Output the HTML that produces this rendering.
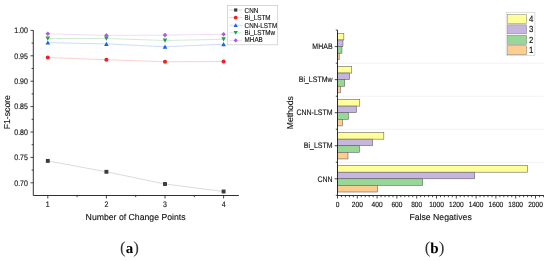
<!DOCTYPE html>
<html><head><meta charset="utf-8"><title>Figure</title>
<style>
html,body{margin:0;padding:0;background:#fff;}
body{width:550px;height:261px;overflow:hidden;}
svg{display:block;}
text{font-family:"Liberation Sans", Arial, sans-serif;fill:#111;stroke:#111;stroke-width:0.12px;text-rendering:geometricPrecision;}
.tk{font-size:7px;}
.tk2{font-size:6.6px;}
.tk3{font-size:7px;}
.ti{font-size:8.7px;}
.lg{font-size:6.3px;}
.lg2{font-size:7.8px;}
.cap{font-family:"Liberation Serif", "Times New Roman", serif;font-size:15px;fill:#000;stroke:none;}
.par{font-size:17px;fill:#333;}
</style></head><body>
<svg width="550" height="261" viewBox="0 0 550 261">
<rect width="550" height="261" fill="#fff"/>
<polyline points="47.8,160.9 106.4,171.8 165,184 223.6,191.5" fill="none" stroke="#cfcfcf" stroke-width="0.75"/>
<polyline points="47.8,57.5 106.4,59.7 165,61.8 223.6,61.5" fill="none" stroke="#f8c0c0" stroke-width="0.75"/>
<polyline points="47.8,42.6 106.4,43.9 165,46.8 223.6,44.2" fill="none" stroke="#bcd0f4" stroke-width="0.75"/>
<polyline points="47.8,38.5 106.4,38.5 165,40.5 223.6,39.3" fill="none" stroke="#bfe6c8" stroke-width="0.75"/>
<polyline points="47.8,33.8 106.4,35.4 165,35.1 223.6,34.2" fill="none" stroke="#ead0f6" stroke-width="0.75"/>
<rect x="45.85" y="158.95" width="3.9" height="3.9" fill="#3c3c3c"/>
<rect x="104.45" y="169.85" width="3.9" height="3.9" fill="#3c3c3c"/>
<rect x="163.05" y="182.05" width="3.9" height="3.9" fill="#3c3c3c"/>
<rect x="221.65" y="189.55" width="3.9" height="3.9" fill="#3c3c3c"/>
<circle cx="47.8" cy="57.5" r="2.05" fill="#f01e28"/>
<circle cx="106.4" cy="59.7" r="2.05" fill="#f01e28"/>
<circle cx="165" cy="61.8" r="2.05" fill="#f01e28"/>
<circle cx="223.6" cy="61.5" r="2.05" fill="#f01e28"/>
<path d="M47.8 40.4L50.1 44.6L45.5 44.6Z" fill="#1e5fe6"/>
<path d="M106.4 41.7L108.7 45.9L104.1 45.9Z" fill="#1e5fe6"/>
<path d="M165 44.6L167.3 48.8L162.7 48.8Z" fill="#1e5fe6"/>
<path d="M223.6 42L225.9 46.2L221.3 46.2Z" fill="#1e5fe6"/>
<path d="M47.8 40.7L50.1 36.5L45.5 36.5Z" fill="#1ea04c"/>
<path d="M106.4 40.7L108.7 36.5L104.1 36.5Z" fill="#1ea04c"/>
<path d="M165 42.7L167.3 38.5L162.7 38.5Z" fill="#1ea04c"/>
<path d="M223.6 41.5L225.9 37.3L221.3 37.3Z" fill="#1ea04c"/>
<path d="M47.8 31.5L50.1 33.8L47.8 36.1L45.5 33.8Z" fill="#ac5ce0"/>
<path d="M106.4 33.1L108.7 35.4L106.4 37.7L104.1 35.4Z" fill="#ac5ce0"/>
<path d="M165 32.8L167.3 35.1L165 37.4L162.7 35.1Z" fill="#ac5ce0"/>
<path d="M223.6 31.9L225.9 34.2L223.6 36.5L221.3 34.2Z" fill="#ac5ce0"/>
<path d="M33.3 30.2V195.5H238.9" fill="none" stroke="#1a1a1a" stroke-width="0.9"/>
<text transform="translate(27.9 33.1) scale(1 1.15)" text-anchor="end" class="tk">1.00</text>
<text transform="translate(27.9 58.5) scale(1 1.15)" text-anchor="end" class="tk">0.95</text>
<text transform="translate(27.9 83.9) scale(1 1.15)" text-anchor="end" class="tk">0.90</text>
<text transform="translate(27.9 109.3) scale(1 1.15)" text-anchor="end" class="tk">0.85</text>
<text transform="translate(27.9 134.7) scale(1 1.15)" text-anchor="end" class="tk">0.80</text>
<text transform="translate(27.9 160.1) scale(1 1.15)" text-anchor="end" class="tk">0.75</text>
<text transform="translate(27.9 185.5) scale(1 1.15)" text-anchor="end" class="tk">0.70</text>
<text transform="translate(47.8 207.1) scale(1 1.15)" text-anchor="middle" class="tk">1</text>
<text transform="translate(106.4 207.1) scale(1 1.15)" text-anchor="middle" class="tk">2</text>
<text transform="translate(165 207.1) scale(1 1.15)" text-anchor="middle" class="tk">3</text>
<text transform="translate(223.6 207.1) scale(1 1.15)" text-anchor="middle" class="tk">4</text>
<path d="M30.5 30.4H33.3M31.6 43.1H33.3M30.5 55.8H33.3M31.6 68.5H33.3M30.5 81.2H33.3M31.6 93.9H33.3M30.5 106.6H33.3M31.6 119.3H33.3M30.5 132H33.3M31.6 144.7H33.3M30.5 157.4H33.3M31.6 170.1H33.3M30.5 182.8H33.3M47.8 195.5V198.5M77.1 195.5V197.2M106.4 195.5V198.5M135.7 195.5V197.2M165 195.5V198.5M194.3 195.5V197.2M223.6 195.5V198.5" fill="none" stroke="#1a1a1a" stroke-width="0.8"/>
<text x="135.6" y="219.6" text-anchor="middle" class="ti">Number of Change Points</text>
<text transform="translate(10.3 112.2) rotate(-90)" text-anchor="middle" class="ti">F1-score</text>
<rect x="227.5" y="5.5" width="50.2" height="39.3" fill="#fff" stroke="#c8c8c8" stroke-width="0.7"/>
<path d="M229.3 10H242.2" stroke="#cfcfcf" stroke-width="0.7"/>
<rect x="234.1" y="8.4" width="3.2" height="3.2" fill="#3c3c3c"/>
<text transform="translate(244.6 12.8) scale(1 1.15)" class="lg">CNN</text>
<path d="M229.3 17.6H242.2" stroke="#f8c0c0" stroke-width="0.7"/>
<circle cx="235.7" cy="17.6" r="1.9" fill="#f01e28"/>
<text transform="translate(244.6 20.16) scale(1 1.15)" class="lg">Bi<tspan dy="-0.7">_</tspan><tspan dy="0.7">LSTM</tspan></text>
<path d="M229.3 25.2H242.2" stroke="#bcd0f4" stroke-width="0.7"/>
<path d="M235.7 23.15L237.85 27.05L233.55 27.05Z" fill="#1e5fe6"/>
<text transform="translate(244.6 27.52) scale(1 1.15)" class="lg">CNN-LSTM</text>
<path d="M229.3 32.8H242.2" stroke="#bfe6c8" stroke-width="0.7"/>
<path d="M235.7 34.85L237.85 30.95L233.55 30.95Z" fill="#1ea04c"/>
<text transform="translate(244.6 34.88) scale(1 1.15)" class="lg">Bi<tspan dy="-0.7">_</tspan><tspan dy="0.7">LSTMw</tspan></text>
<path d="M229.3 40.4H242.2" stroke="#ead0f6" stroke-width="0.7"/>
<path d="M235.7 38.25L237.85 40.4L235.7 42.55L233.55 40.4Z" fill="#ac5ce0"/>
<text transform="translate(244.6 42.24) scale(1 1.15)" class="lg">MHAB</text>
<path d="M337.5 63.15H543.8" stroke="#ececec" stroke-width="0.7"/>
<path d="M337.5 96.2H543.8" stroke="#ececec" stroke-width="0.7"/>
<path d="M337.5 129.25H543.8" stroke="#ececec" stroke-width="0.7"/>
<path d="M337.5 162.3H543.8" stroke="#ececec" stroke-width="0.7"/>
<rect x="337.5" y="33.4" width="6.34" height="6.6" fill="#ffff99" stroke="#5a5a5a" stroke-width="0.55"/>
<rect x="337.5" y="40" width="5.45" height="6.6" fill="#c6b5dc" stroke="#5a5a5a" stroke-width="0.55"/>
<rect x="337.5" y="46.6" width="4.46" height="6.6" fill="#97d897" stroke="#5a5a5a" stroke-width="0.55"/>
<rect x="337.5" y="53.2" width="1.68" height="6.6" fill="#fecd90" stroke="#5a5a5a" stroke-width="0.55"/>
<rect x="337.5" y="66.45" width="14.26" height="6.6" fill="#ffff99" stroke="#5a5a5a" stroke-width="0.55"/>
<rect x="337.5" y="73.05" width="12.18" height="6.6" fill="#c6b5dc" stroke="#5a5a5a" stroke-width="0.55"/>
<rect x="337.5" y="79.65" width="7.23" height="6.6" fill="#97d897" stroke="#5a5a5a" stroke-width="0.55"/>
<rect x="337.5" y="86.25" width="3.07" height="6.6" fill="#fecd90" stroke="#5a5a5a" stroke-width="0.55"/>
<rect x="337.5" y="99.5" width="22.28" height="6.6" fill="#ffff99" stroke="#5a5a5a" stroke-width="0.55"/>
<rect x="337.5" y="106.1" width="19.01" height="6.6" fill="#c6b5dc" stroke="#5a5a5a" stroke-width="0.55"/>
<rect x="337.5" y="112.7" width="10.89" height="6.6" fill="#97d897" stroke="#5a5a5a" stroke-width="0.55"/>
<rect x="337.5" y="119.3" width="4.85" height="6.6" fill="#fecd90" stroke="#5a5a5a" stroke-width="0.55"/>
<rect x="337.5" y="132.55" width="46.33" height="6.6" fill="#ffff99" stroke="#5a5a5a" stroke-width="0.55"/>
<rect x="337.5" y="139.15" width="34.95" height="6.6" fill="#c6b5dc" stroke="#5a5a5a" stroke-width="0.55"/>
<rect x="337.5" y="145.75" width="21.98" height="6.6" fill="#97d897" stroke="#5a5a5a" stroke-width="0.55"/>
<rect x="337.5" y="152.35" width="10.49" height="6.6" fill="#fecd90" stroke="#5a5a5a" stroke-width="0.55"/>
<rect x="337.5" y="165.6" width="189.98" height="6.6" fill="#ffff99" stroke="#5a5a5a" stroke-width="0.55"/>
<rect x="337.5" y="172.2" width="137.12" height="6.6" fill="#c6b5dc" stroke="#5a5a5a" stroke-width="0.55"/>
<rect x="337.5" y="178.8" width="85.24" height="6.6" fill="#97d897" stroke="#5a5a5a" stroke-width="0.55"/>
<rect x="337.5" y="185.4" width="40.09" height="6.6" fill="#fecd90" stroke="#5a5a5a" stroke-width="0.55"/>
<path d="M337.5 30.1V195.5H543.8" fill="none" stroke="#1a1a1a" stroke-width="0.9"/>
<text transform="translate(337.5 207.1) scale(1 1.15)" text-anchor="middle" class="tk2">0</text>
<text transform="translate(357.3 207.1) scale(1 1.15)" text-anchor="middle" class="tk2">200</text>
<text transform="translate(377.1 207.1) scale(1 1.15)" text-anchor="middle" class="tk2">400</text>
<text transform="translate(396.9 207.1) scale(1 1.15)" text-anchor="middle" class="tk2">600</text>
<text transform="translate(416.7 207.1) scale(1 1.15)" text-anchor="middle" class="tk2">800</text>
<text transform="translate(436.5 207.1) scale(1 1.15)" text-anchor="middle" class="tk2">1000</text>
<text transform="translate(456.3 207.1) scale(1 1.15)" text-anchor="middle" class="tk2">1200</text>
<text transform="translate(476.1 207.1) scale(1 1.15)" text-anchor="middle" class="tk2">1400</text>
<text transform="translate(495.9 207.1) scale(1 1.15)" text-anchor="middle" class="tk2">1600</text>
<text transform="translate(515.7 207.1) scale(1 1.15)" text-anchor="middle" class="tk2">1800</text>
<text transform="translate(535.5 207.1) scale(1 1.15)" text-anchor="middle" class="tk2">2000</text>
<text transform="translate(332.6 49.3) scale(1 1.15)" text-anchor="end" class="tk3">MHAB</text>
<text transform="translate(332.6 82.35) scale(1 1.15)" text-anchor="end" class="tk3">Bi<tspan dy="-0.7">_</tspan><tspan dy="0.7">LSTMw</tspan></text>
<text transform="translate(332.6 115.4) scale(1 1.15)" text-anchor="end" class="tk3">CNN-LSTM</text>
<text transform="translate(332.6 148.45) scale(1 1.15)" text-anchor="end" class="tk3">Bi<tspan dy="-0.7">_</tspan><tspan dy="0.7">LSTM</tspan></text>
<text transform="translate(332.6 181.5) scale(1 1.15)" text-anchor="end" class="tk3">CNN</text>
<path d="M337.5 195.5V198.5M357.3 195.5V198.5M377.1 195.5V198.5M396.9 195.5V198.5M416.7 195.5V198.5M436.5 195.5V198.5M456.3 195.5V198.5M476.1 195.5V198.5M495.9 195.5V198.5M515.7 195.5V198.5M535.5 195.5V198.5M341.46 195.5V197.2M345.42 195.5V197.2M349.38 195.5V197.2M353.34 195.5V197.2M361.26 195.5V197.2M365.22 195.5V197.2M369.18 195.5V197.2M373.14 195.5V197.2M381.06 195.5V197.2M385.02 195.5V197.2M388.98 195.5V197.2M392.94 195.5V197.2M400.86 195.5V197.2M404.82 195.5V197.2M408.78 195.5V197.2M412.74 195.5V197.2M420.66 195.5V197.2M424.62 195.5V197.2M428.58 195.5V197.2M432.54 195.5V197.2M440.46 195.5V197.2M444.42 195.5V197.2M448.38 195.5V197.2M452.34 195.5V197.2M460.26 195.5V197.2M464.22 195.5V197.2M468.18 195.5V197.2M472.14 195.5V197.2M480.06 195.5V197.2M484.02 195.5V197.2M487.98 195.5V197.2M491.94 195.5V197.2M499.86 195.5V197.2M503.82 195.5V197.2M507.78 195.5V197.2M511.74 195.5V197.2M519.66 195.5V197.2M523.62 195.5V197.2M527.58 195.5V197.2M531.54 195.5V197.2M539.46 195.5V197.2M543.42 195.5V197.2M334.7 46.6H337.5M334.7 79.65H337.5M334.7 112.7H337.5M334.7 145.75H337.5M334.7 178.8H337.5M335.8 30.1H337.5M335.8 63.15H337.5M335.8 96.2H337.5M335.8 129.25H337.5M335.8 162.3H337.5M335.8 195.35H337.5" fill="none" stroke="#1a1a1a" stroke-width="0.8"/>
<text x="440.6" y="220.1" text-anchor="middle" class="ti">False Negatives</text>
<text transform="translate(293 112.7) rotate(-90)" text-anchor="middle" class="ti">Methods</text>
<rect x="506.2" y="12.3" width="28.7" height="43.3" fill="#fff" stroke="#cfcfcf" stroke-width="0.7"/>
<rect x="507.5" y="14.4" width="19.2" height="9" fill="#ffff99" stroke="#808080" stroke-width="0.5"/>
<text transform="translate(531.2 21.8) scale(1 1.15)" text-anchor="middle" class="lg2">4</text>
<rect x="507.5" y="24.85" width="19.2" height="9" fill="#c6b5dc" stroke="#808080" stroke-width="0.5"/>
<text transform="translate(531.2 32.25) scale(1 1.15)" text-anchor="middle" class="lg2">3</text>
<rect x="507.5" y="35.3" width="19.2" height="9" fill="#97d897" stroke="#808080" stroke-width="0.5"/>
<text transform="translate(531.2 42.7) scale(1 1.15)" text-anchor="middle" class="lg2">2</text>
<rect x="507.5" y="45.75" width="19.2" height="9" fill="#fecd90" stroke="#808080" stroke-width="0.5"/>
<text transform="translate(531.2 53.15) scale(1 1.15)" text-anchor="middle" class="lg2">1</text>
<text x="129.4" y="252.6" text-anchor="middle" class="cap"><tspan class="par">(</tspan><tspan font-weight="bold">a</tspan><tspan class="par">)</tspan></text>
<text x="434.5" y="252.6" text-anchor="middle" class="cap"><tspan class="par">(</tspan><tspan font-weight="bold">b</tspan><tspan class="par">)</tspan></text>
</svg>
</body></html>
